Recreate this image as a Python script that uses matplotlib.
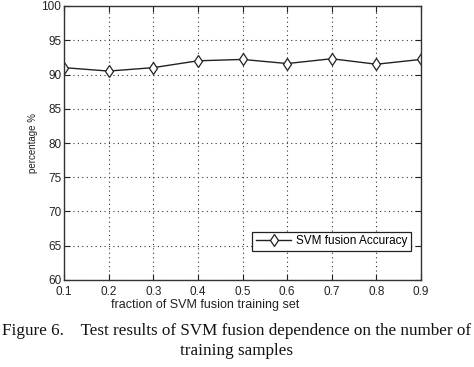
import matplotlib
matplotlib.use("Agg")
import numpy as np
import matplotlib.pyplot as plt

# fraction of training set vs. accuracy (%)
fractions = [0.1, 0.2, 0.3, 0.4, 0.5, 0.6, 0.7, 0.8, 0.9]
accuracy = [91.0, 90.5, 91.0, 92.0, 92.2, 91.6, 92.3, 91.5, 92.2]
y_ticks = [60, 65, 70, 75, 80, 85, 90, 95, 100]

W, H = 474, 367
fig = plt.figure(figsize=(W / 100, H / 100), dpi=100)
ax = fig.add_axes([64 / W, 1 - 280 / H, (421 - 64) / W, (280 - 6) / H])

sans = "Liberation Sans"
serif = "Liberation Serif"

ax.plot(fractions, accuracy, color="#222222", lw=1.0, marker="d",
        markersize=6, markerfacecolor="white", markeredgecolor="#222222",
        markeredgewidth=0.9, label="SVM fusion Accuracy")

ax.set_xlim(0.1, 0.9)
ax.set_ylim(60, 100)
ax.set_xticks(fractions)
ax.set_xticklabels([f"{v:.1f}" for v in fractions])
ax.set_yticks(y_ticks)
ax.grid(True, color="#333333", linestyle=(0, (1, 3)), linewidth=0.8)
ax.tick_params(direction="in", length=4, top=True, right=True,
               labelsize=8.5, pad=2, colors="#222222")
ax.tick_params(axis="x", pad=4)
for lab in ax.get_xticklabels() + ax.get_yticklabels():
    lab.set_family(sans)
for sp in ax.spines.values():
    sp.set_linewidth(1.0)
    sp.set_color("#333333")

fig.text(33 / W, 1 - 143 / H, "percentage %", rotation=90, ha="center",
         va="center", fontsize=7, family=sans, color="#222222")
fig.text(205 / W, 1 - 305 / H, "fraction of SVM fusion training set",
         ha="center", va="center", fontsize=9, family=sans, color="#222222")

leg = ax.legend(loc="lower right", bbox_to_anchor=(411 / W, 1 - 251 / H),
                bbox_transform=fig.transFigure, fancybox=False, framealpha=1,
                edgecolor="#222222", prop={"family": sans, "size": 8.5},
                handlelength=3, borderpad=0.3, handletextpad=0.4,
                borderaxespad=0)
leg.get_frame().set_linewidth(0.9)

fig.text(237 / W, 1 - 331 / H,
         "Figure 6.    Test results of SVM fusion dependence on the number of",
         ha="center", va="center", fontsize=12.3, family=serif, color="#111111")
fig.text(237 / W, 1 - 351 / H, "training samples", ha="center",
         va="center", fontsize=12.3, family=serif, color="#111111")

fig.savefig("out.png", dpi=100)
